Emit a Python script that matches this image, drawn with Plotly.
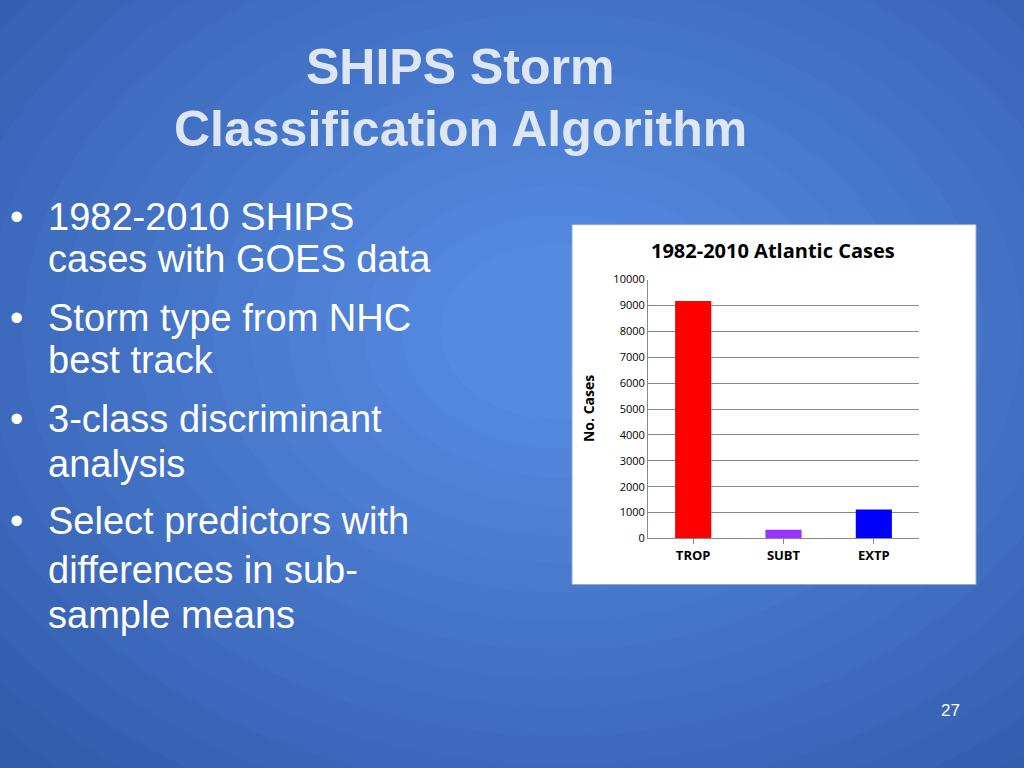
import plotly.graph_objects as go

categories = ["TROP", "SUBT", "EXTP"]
cases = [9170, 340, 1120]
bar_colors = ["#ff0000", "#9933ff", "#0000ff"]
y_ticks = list(range(0, 10001, 1000))

bullets = [
    ["1982-2010 SHIPS", "cases with GOES data"],
    ["Storm type from NHC", "best track"],
    ["3-class discriminant", "analysis"],
    ["Select predictors with", "differences in sub-", "sample means"],
]

W, H = 1024, 768
fig = go.Figure()
fig.add_trace(go.Bar(x=categories, y=cases, marker_color=bar_colors, width=0.4,
                     marker_line_width=0))

shapes = []
n = 30
for i in range(n):
    t = i / (n - 1)
    r0, g0, b0 = 0x1c, 0x3f, 0x8c
    r1, g1, b1 = 0x55, 0x8a, 0xe0
    c = f"rgb({int(r0+(r1-r0)*t)},{int(g0+(g1-g0)*t)},{int(b0+(b1-b0)*t)})"
    rx = 1100 * (1 - t) + 120
    ry = 850 * (1 - t) + 90
    cx, cy = 560, 330
    shapes.append(dict(type="circle", xref="paper", yref="paper", layer="below",
                       x0=(cx - rx) / W, x1=(cx + rx) / W,
                       y0=1 - (cy + ry) / H, y1=1 - (cy - ry) / H,
                       fillcolor=c, line_width=0))
shapes.insert(0, dict(type="rect", xref="paper", yref="paper", layer="below",
                      x0=0, x1=1, y0=0, y1=1, fillcolor="#1c3f8c", line_width=0))
shapes.append(dict(type="rect", xref="paper", yref="paper", layer="below",
                   x0=572 / W, x1=976 / W, y0=1 - 588 / H, y1=1 - 221 / H,
                   fillcolor="white", line=dict(color="#9aa8bb", width=1)))

ann = []
def txt(x, y, s, size, bold=False, color="white", anchor="left", family="Liberation Sans"):
    ann.append(dict(x=x / W, y=1 - y / H, xref="paper", yref="paper", text=(f"<b>{s}</b>" if bold else s),
                    showarrow=False, xanchor=anchor, yanchor="middle",
                    font=dict(size=size, color=color, family=family)))

for s, y in [("SHIPS Storm", 60), ("Classification Algorithm", 123)]:
    txt(460, y, s, 50, True, "#dde6f2", "center")

ys = [[213, 256], [316, 359], [419, 465], [523, 573, 619]]
for lines, yl in zip(bullets, ys):
    txt(8, yl[0], "•", 38)
    for s, y in zip(lines, yl):
        txt(46, y, s, 38)

txt(950, 716, "27", 17, anchor="center")
txt(773, 247, "1982-2010 Atlantic Cases", 20, True, "black", "center", "Open Sans")
ann.append(dict(x=588 / W, y=1 - 409 / H, xref="paper", yref="paper", text="<b>No. Cases</b>",
                showarrow=False, textangle=-90, font=dict(size=14, color="black", family="Open Sans")))

fig.update_layout(
    width=W, height=H, margin=dict(l=0, r=0, t=0, b=0),
    paper_bgcolor="#1c3f8c", plot_bgcolor="white", showlegend=False,
    shapes=shapes, annotations=ann,
    xaxis=dict(domain=[648 / W, 919 / W], showline=True, linecolor="#888", ticks="outside",
               tickcolor="#888", tickfont=dict(size=13, color="black", family="Open Sans"),
               tickprefix="<b>", ticksuffix="</b>", fixedrange=True),
    yaxis=dict(domain=[1 - 541 / H, 1 - 277 / H], range=[0, 10000], tickvals=y_ticks,
               ticktext=[str(v) for v in y_ticks],
               showgrid=True, gridcolor="#888", gridwidth=1, zeroline=False,
               tickfont=dict(size=11, color="black", family="Open Sans"),
               showline=True, linecolor="#888"),
)
fig.write_html("out.html", config={"displayModeBar": False},
               post_script="document.body.style.margin='0';document.body.style.overflow='hidden';")
